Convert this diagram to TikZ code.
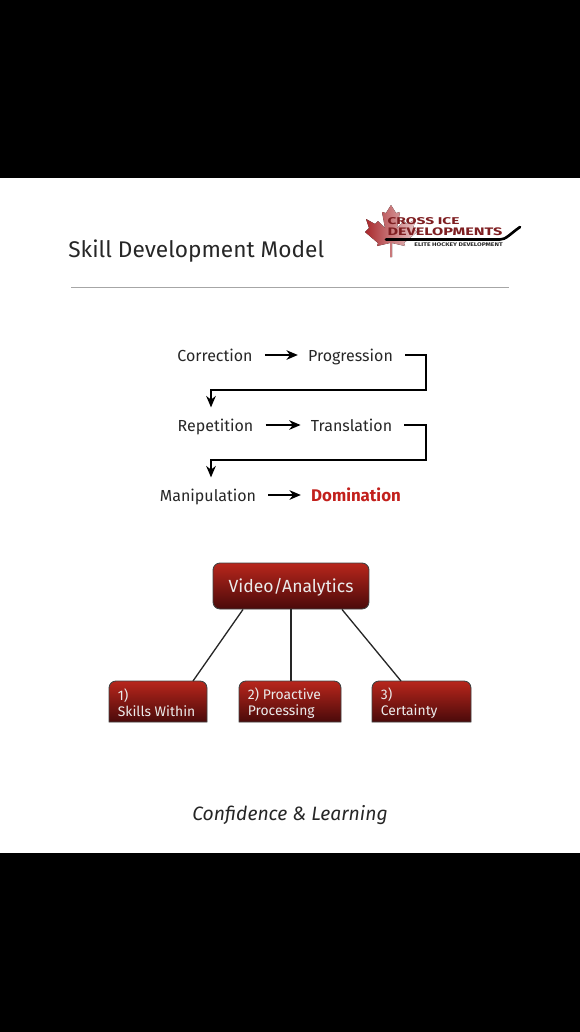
\documentclass[tikz,border=0pt]{standalone}
\usepackage{fontspec}
\setmainfont{Fira Sans}
\usetikzlibrary{arrows.meta,positioning}
\definecolor{boxtop}{HTML}{B8261C}
\definecolor{boxbot}{HTML}{4A0A0A}
\definecolor{domred}{HTML}{C2201C}
\definecolor{leafred}{HTML}{A8282C}
\tikzset{
  word/.style={inner xsep=0.2cm,inner ysep=0.158cm,text height=8.8pt,text depth=1.9pt,font=\fontsize{9.1}{10}\selectfont,text=black!85},
  flow/.style={-{Stealth[length=6.5pt,width=5.5pt]},line width=0.8pt,shorten <=0.04cm},
  tie/.style={line width=0.75pt,black!85},
  boxfill/.style={top color=boxtop,bottom color=boxbot,draw=black!75,line width=0.5pt},
  boxword/.style={anchor=west,align=left,text=white!92!black,inner sep=0pt,font=\fontsize{7.9}{9.2}\selectfont},
}
\begin{document}
\begin{tikzpicture}[x=0.02cm,y=-0.02cm]
\useasboundingbox (0,0) rectangle (580,1032);
\fill[black] (0,0) rectangle (580,178);
\fill[black] (0,853) rectangle (580,1032);
% heading
\node[anchor=west,inner sep=0pt,font=\fontsize{12.9}{14}\selectfont,text=black!85] (title) at (68,251) {Skill Development Model};
\draw[black!35,line width=0.5pt] (71,287) -- (509,287);
% logo
\fill[left color=leafred,right color=leafred!25] (391,205) -- (396,213) -- (400,212) -- (397,228) -- (404,221) -- (407,224) -- (416,219) -- (413,228) -- (417,232) -- (404,243) -- (405,246) -- (392,243) -- (392,257) -- (390,257) -- (390,243) -- (377,246) -- (378,243) -- (365,232) -- (369,228) -- (366,219) -- (375,224) -- (378,221) -- (385,228) -- (382,212) -- (386,213) -- cycle;
\draw[black,line width=1.5pt,line cap=round] (386,239.5) -- (500,239.5) .. controls (506,239.5) and (510,234) .. (520,227);
\node[anchor=west,inner sep=0pt,font=\bfseries\fontsize{5.6}{6}\selectfont,text=leafred!75!black,xscale=1.58] (logoa) at (387,221) {CROSS ICE};
\node[anchor=west,inner sep=0pt,font=\bfseries\fontsize{6.2}{7}\selectfont,text=leafred!75!black,xscale=1.49] (logob) at (387,232) {DEVELOPMENTS};
\node[anchor=west,inner sep=0pt,font=\bfseries\fontsize{3}{4}\selectfont,text=black!85,xscale=1.28] (logoc) at (414,244.5) {ELITE HOCKEY DEVELOPMENT};
% flow of words
\node[word] (corr) at (215,355) {Correction};
\node[word] (prog) at (350.5,355) {Progression};
\node[word] (rep) at (215.5,425) {Repetition};
\node[word] (trans) at (351.5,425) {Translation};
\node[word] (manip) at (208,495) {Manipulation};
\node[word,text=domred,font=\bfseries\fontsize{9.6}{10}\selectfont] (dom) at (356,495) {Domination};
\draw[flow] (corr) -- (prog);
\draw[flow] (rep) -- (trans);
\draw[flow] (manip) -- (dom);
\draw[flow] (prog.east) -- (426,355) -- (426,390) -| ([xshift=-0.09cm]rep.north);
\draw[flow] (trans.east) -- (426,425) -- (426,460) -| ([xshift=0.06cm]manip.north);
% boxes
\node[boxfill,rounded corners=4pt,minimum width=3.12cm,minimum height=0.92cm,inner sep=0pt,text=white!92!black,font=\fontsize{10}{11}\selectfont,text height=9.1pt,text depth=1.2pt] (video) at (291,586) {Video/Analytics};
\foreach \xa/\xb/\name/\txt in {109/207/skills/{1)\\Skills Within},239/341/proact/{2) Proactive\\Processing},372/471/certain/{3)\\Certainty}}{
  \shade[boxfill] (\xa,722) [rounded corners=4pt] -- (\xa,681) -- (\xb,681) [sharp corners] -- (\xb,722) -- cycle;
  \node[boxword] (\name) at (\xa+8.5,703) {\txt};
  \coordinate (top\name) at (\xa/2+\xb/2,681);
}
\draw[tie] ([xshift=-0.96cm]video.south) -- ([xshift=0.7cm]topskills);
\draw[tie] (video.south) -- ([xshift=0.02cm]topproact);
\draw[tie] ([xshift=1.02cm]video.south) -- ([xshift=-0.41cm]topcertain);
\node[font=\itshape\fontsize{11}{12}\selectfont,inner sep=0pt,text=black!85] (motto) at (290,815) {Confidence \& Learning};
\end{tikzpicture}
\end{document}
